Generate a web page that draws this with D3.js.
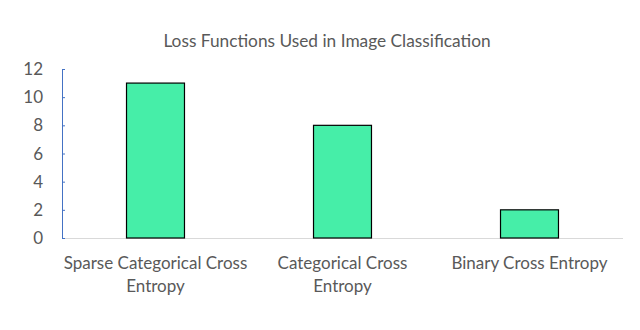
<!DOCTYPE html>
<html lang=en>
<head>
	<meta charset="utf-8">
	<title>loss functions bar chart</title>
	<script src="https://cdn.jsdelivr.net/npm/d3@7"></script>
	<style>
		body { margin: 0; background: #fff; }
		text { font-family: Lato, "Open Sans", sans-serif; fill: #595959; }
	</style>
</head>
<body>
	<script type="text/javascript">
	var categories = ["Sparse Categorical Cross Entropy", "Categorical Cross Entropy", "Binary Cross Entropy"];
	var labelLines = [["Sparse Categorical Cross", "Entropy"], ["Categorical Cross", "Entropy"], ["Binary Cross Entropy"]];
	var counts = [11, 8, 2];
	var yTicks = [0, 2, 4, 6, 8, 10, 12];
	var title = "Loss Functions Used in Image Classification";

	var width = 640, height = 330;
	var plotLeft = 62, plotRight = 623, plotTop = 69, plotBottom = 238;

	var svg = d3.select('body')
				.append('svg')
				.attr('width', width)
				.attr('height', height);

	var x = d3.scaleBand()
			.domain(categories)
			.range([plotLeft, plotRight])
			.paddingInner(0.69)
			.paddingOuter(0.345);

	var y = d3.scaleLinear()
			.domain([0, 12])
			.range([plotBottom, plotTop]);

	svg.append('text')
		.attr('x', 327)
		.attr('y', 47)
		.attr('text-anchor', 'middle')
		.style('font-size', '17.3px')
		.text(title);

	// baseline
	svg.append('line')
		.attr('x1', plotLeft).attr('x2', plotRight)
		.attr('y1', y(0) + 0.5).attr('y2', y(0) + 0.5)
		.attr('stroke', '#d9d9d9')
		.attr('stroke-width', 1);

	// y axis
	var yAxis = svg.append('g')
				.attr('transform', 'translate(' + plotLeft + ',0)')
				.call(d3.axisRight(y).tickValues(yTicks).tickSize(3).tickFormat(''));
	yAxis.selectAll('path,line').attr('stroke', '#4472c4');
	yAxis.select('.domain').attr('d', 'M0.5,' + y(12) + 'V' + y(0));

	svg.selectAll('.ylab')
		.data(yTicks)
		.enter()
		.append('text')
		.attr('class', 'ylab')
		.attr('x', 43)
		.attr('y', function(d){ return y(d) + 6; })
		.attr('text-anchor', 'end')
		.style('font-size', '17px')
		.text(function(d){ return d; });

	svg.selectAll('rect')
		.data(counts)
		.enter()
		.append('rect')
		.attr('x', function(d, i){ return x(categories[i]); })
		.attr('y', function(d){ return y(d); })
		.attr('width', x.bandwidth())
		.attr('height', function(d){ return y(0) - y(d); })
		.attr('fill', '#46eea8')
		.attr('stroke', '#000')
		.attr('stroke-width', 1.2);

	var labels = svg.selectAll('.xlab')
				.data(labelLines)
				.enter()
				.append('text')
				.attr('class', 'xlab')
				.attr('text-anchor', 'middle')
				.style('font-size', '17px');

	labels.selectAll('tspan')
		.data(function(d, i){ return d.map(function(s){ return {s: s, i: i}; }); })
		.enter()
		.append('tspan')
		.attr('x', function(d){ return x(categories[d.i]) + x.bandwidth() / 2; })
		.attr('y', function(d, j){ return 269 + j * 23; })
		.text(function(d){ return d.s; });
	</script>
</body>
</html>
